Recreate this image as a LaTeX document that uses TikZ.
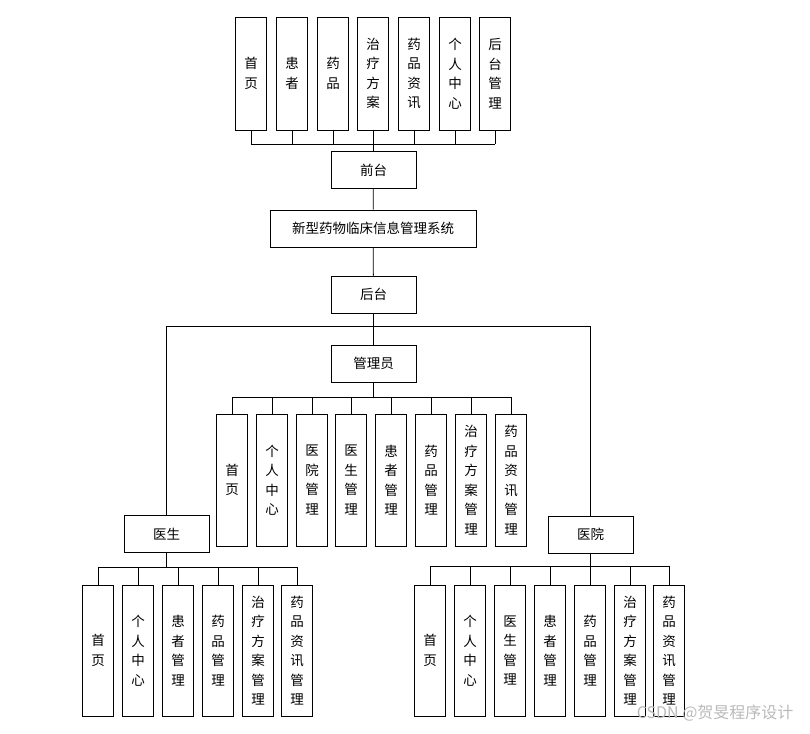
\documentclass[tikz,border=0pt]{standalone}
\usepackage{fontspec}
\setmainfont{Noto Sans CJK SC}
\usetikzlibrary{positioning}
\tikzset{
  box/.style={draw, thick, minimum width=85pt, minimum height=37pt, inner sep=0pt, font=\fontsize{13.5}{16}\selectfont},
  vbox/.style={draw, thick, minimum width=31pt, inner sep=0pt, align=center, font=\fontsize{13.5}{19.5}\selectfont},
  line/.style={thick}
}
\begin{document}
\begin{tikzpicture}[x=1pt,y=-1pt]
\useasboundingbox (0,0) rectangle (810,733);
% top level
\node[box] (qian) at (373.5,170) {前台};
\node[box, minimum width=206pt] (sys) at (373,228.5) {新型药物临床信息管理系统};
\node[box] (hou) at (373.5,294.5) {后台};
\node[box] (admin) at (373.5,363.5) {管理员};
\node[box] (doc) at (166.5,534) {医生};
\node[box] (hosp) at (590.5,534.5) {医院};
\draw[line] (qian) -- (sys) -- (hou);
% front
\foreach \x/\t [count=\i] in {251/首\\页, 292/患\\者, 333/药\\品, 373/治\\疗\\方\\案, 414/药\\品\\资\\讯, 455/个\\人\\中\\心, 495/后\\台\\管\\理}{
  \node[vbox, minimum height=113pt] (f\i) at (\x,73.5) {\t};
  \draw[line] (f\i.south) -- (\x,144);
}
\draw[line] (251,144) -- (495,144);
\draw[line] (373.5,144) -- (qian.north);
% back
\draw[line] (hou.south) -- (admin.north);
\draw[line] (166.5,326) -- (590.5,326);
\draw[line] (166.5,326) -- (doc.north);
\draw[line] (590.5,326) -- (hosp.north);
% admin
\foreach \x/\t [count=\i] in {232/首\\页, 272/个\\人\\中\\心, 312/医\\院\\管\\理, 351/医\\生\\管\\理, 391/患\\者\\管\\理, 431/药\\品\\管\\理, 471/治\\疗\\方\\案\\管\\理, 511/药\\品\\资\\讯\\管\\理}{
  \node[vbox, minimum height=132pt] (a\i) at (\x,480) {\t};
  \draw[line] (a\i.north) -- (\x,397);
}
\draw[line] (232,397) -- (511,397);
\draw[line] (admin.south) -- (373.5,397);
% doctor
\foreach \x/\t [count=\i] in {98/首\\页, 138/个\\人\\中\\心, 178/患\\者\\管\\理, 218/药\\品\\管\\理, 258/治\\疗\\方\\案\\管\\理, 297/药\\品\\资\\讯\\管\\理}{
  \node[vbox, minimum height=131pt] (d\i) at (\x,650.5) {\t};
  \draw[line] (d\i.north) -- (\x,567);
}
\draw[line] (98,567) -- (297,567);
\draw[line] (doc.south) -- (166.5,567);
% hospital
\foreach \x/\t [count=\i] in {430/首\\页, 470/个\\人\\中\\心, 510/医\\生\\管\\理, 550/患\\者\\管\\理, 590/药\\品\\管\\理, 630/治\\疗\\方\\案\\管\\理, 669/药\\品\\资\\讯\\管\\理}{
  \node[vbox, minimum height=131pt] (h\i) at (\x,650.5) {\t};
  \draw[line] (h\i.north) -- (\x,566);
}
\draw[line] (430,566) -- (669,566);
\draw[line] (hosp.south) -- (590.5,566);
\node[text=gray!55, font=\fontsize{16}{18}\selectfont, anchor=east] (mark) at (797,713) {CSDN @贺旻程序设计};
\end{tikzpicture}
\end{document}
